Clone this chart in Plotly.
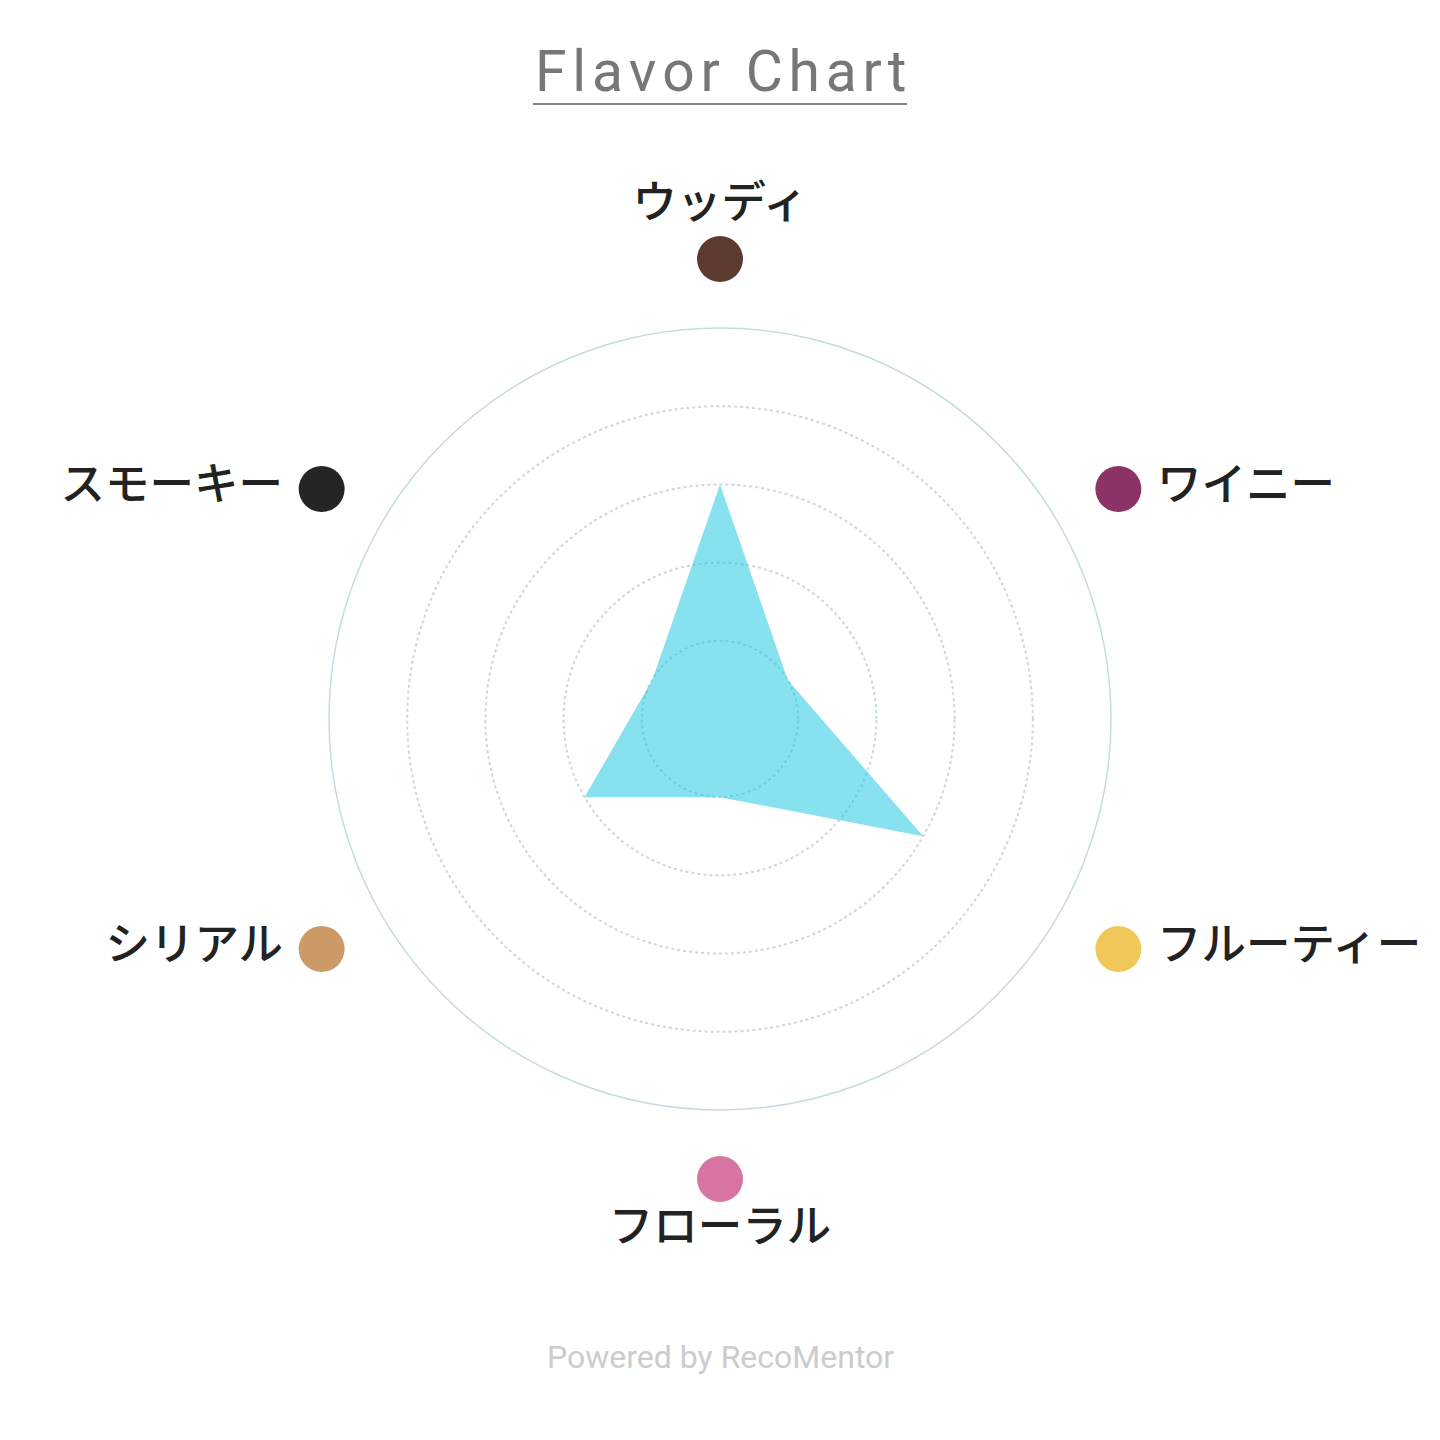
#!/usr/bin/python3

import plotly.graph_objects as go

# flavor categories, clockwise from the top
flavors = ['ウッディ', 'ワイニー', 'フルーティー', 'フローラル', 'シリアル', 'スモーキー']
scores = [3, 1, 3, 1, 2, 1]
dot_colors = ['#5c3a32', '#8b3366', '#f0c85a', '#d874a2', '#cc9a66', '#252525']
label_pos = ['top center', 'middle right', 'middle right', 'bottom center', 'middle left', 'middle left']

max_score = 5

# page is drawn with an 8px body margin, so everything is nudged by that
cx, cy = 712, 711
r_frame, r_label = 391, 460


def dom(r):
    return dict(x = [(cx - r) / 1440, (cx + r) / 1440],
                y = [(1440 - cy - r) / 1440, (1440 - cy + r) / 1440])


def pad(name, pos):
    # a little air between the dot and the side labels
    if pos == 'middle right':
        return '\u2009' + name
    if pos == 'middle left':
        return name + '\u2009'
    return name


def spaced(word, gap):
    # plotly has no letter-spacing, so put hair spaces between the letters
    return gap.join(word)


def build_chart():
    fig = go.Figure()

    # closed polygon for the score area
    fig.add_trace(go.Scatterpolar(
        r = scores + scores[:1],
        theta = flavors + flavors[:1],
        mode = 'lines',
        fill = 'toself',
        fillcolor = 'rgba(17,195,223,0.5)',
        line = dict(width = 0, color = 'rgba(0,0,0,0)'),
        hoverinfo = 'skip',
    ))

    # category dots with their names, on a larger hidden polar
    fig.add_trace(go.Scatterpolar(
        r = [max_score] * len(flavors),
        theta = flavors,
        subplot = 'polar2',
        mode = 'markers+text',
        text = [pad(n, p) for n, p in zip(flavors, label_pos)],
        textposition = label_pos,
        textfont = dict(family = 'Noto Sans CJK JP', size = 44.5, color = '#222222', weight = 500),
        marker = dict(size = 46, color = dot_colors),
        cliponaxis = False,
        hoverinfo = 'skip',
    ))

    title_text = spaced('Flavor', '\u200a') + '\u2009 ' + spaced('Chart', '\u200a')

    fig.update_layout(
        width = 1440,
        height = 1440,
        showlegend = False,
        paper_bgcolor = 'white',
        margin = dict(l = 0, r = 0, t = 0, b = 0),
        polar = dict(
            domain = dom(r_frame),
            bgcolor = 'white',
            radialaxis = dict(
                range = [0, max_score],
                tickvals = [1, 2, 3, 4],
                showticklabels = False,
                ticks = '',
                showline = False,
                gridcolor = '#c9d9dc',
                griddash = 'dot',
                gridwidth = 1.5,
            ),
            angularaxis = dict(
                direction = 'clockwise',
                rotation = 90,
                showgrid = False,
                showticklabels = False,
                ticks = '',
                showline = True,
                linecolor = '#c6dbe0',
                linewidth = 1.5,
            ),
        ),
        polar2 = dict(
            domain = dom(r_label),
            bgcolor = 'rgba(0,0,0,0)',
            radialaxis = dict(range = [0, max_score], visible = False, showgrid = False),
            angularaxis = dict(
                direction = 'clockwise',
                rotation = 90,
                showgrid = False,
                showticklabels = False,
                ticks = '',
                showline = False,
            ),
        ),
        annotations = [
            dict(
                text = title_text,
                x = cx / 1440, y = 1 - 64 / 1440, xref = 'paper', yref = 'paper',
                xanchor = 'center', yanchor = 'middle', showarrow = False,
                font = dict(family = 'Roboto', size = 57, color = '#777777', weight = 400),
            ),
            dict(
                text = 'Powered by RecoMentor',
                x = cx / 1440, y = 1 - 1349 / 1440, xref = 'paper', yref = 'paper',
                xanchor = 'center', yanchor = 'middle', showarrow = False,
                font = dict(family = 'Roboto', size = 32, color = '#cccccc'),
            ),
        ],
        shapes = [
            # underline below the title
            dict(type = 'line', xref = 'paper', yref = 'paper',
                 x0 = 525 / 1440, x1 = 899 / 1440, y0 = 1 - 96 / 1440, y1 = 1 - 96 / 1440,
                 line = dict(color = '#888888', width = 2)),
        ],
    )

    fig.write_html('out.html')


if __name__ == "__main__":
    build_chart()
